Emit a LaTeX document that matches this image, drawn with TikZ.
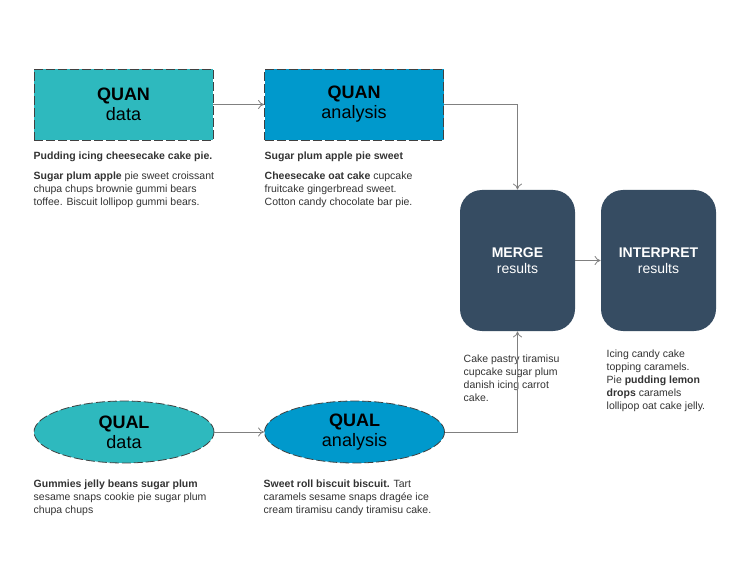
\documentclass[tikz,border=0pt]{standalone}
\usepackage{fontspec}
\setmainfont{Liberation Sans}
\usetikzlibrary{shapes.geometric,arrows.meta}
\definecolor{quanteal}{HTML}{2EB9BE}
\definecolor{quanblue}{HTML}{0099CC}
\definecolor{mergeblue}{HTML}{364C62}
\definecolor{txtgray}{HTML}{333333}
\begin{document}
\begin{tikzpicture}[x=1pt,y=-1pt, line width=0.8pt,
                    flow/.style={draw=gray, line width=0.8pt, -{To[length=6pt,width=9pt]}},
                    quanbox/.style={rectangle, minimum width=179pt, minimum height=71pt, draw=black!75, dash pattern=on 9pt off 3pt, align=center, font=\fontsize{18}{20}\selectfont},
                    qualbox/.style={ellipse, minimum width=180pt, minimum height=62pt, inner sep=0pt, draw=black!75, dash pattern=on 9pt off 3pt, align=center, font=\fontsize{18}{20}\selectfont},
                    resbox/.style={rectangle, rounded corners=22pt, minimum width=115pt, minimum height=141pt, fill=mergeblue, text=white, align=center, font=\fontsize{14}{16}\selectfont},
                    note/.style={anchor=north west, align=left, text=txtgray, font=\fontsize{10.5}{13}\selectfont}]
        \useasboundingbox (0,0) rectangle (750,580);
        \node (QuanData) [quanbox, fill=quanteal] at (123.5,104.5) {\textbf{QUAN}\\data};
        \node (QuanAnalysis) [quanbox, fill=quanblue] at (354,104.5) {\textbf{QUAN}\\analysis};
        \node (QualData) [qualbox, fill=quanteal] at (124,432) {\textbf{QUAL}\\data};
        \node (QualAnalysis) [qualbox, fill=quanblue] at (354.5,432) {\textbf{QUAL}\\analysis};
        \node (Merge) [resbox] at (517.5,260.5) {\textbf{MERGE}\\results};
        \node (Interpret) [resbox] at (658.5,260.5) {\textbf{INTERPRET}\\results};

        \node (QuanDataNote) [note] at (30,148) {\textbf{Pudding icing cheesecake cake pie.}\\[7pt]
            \textbf{Sugar plum apple} pie sweet croissant\\chupa chups brownie gummi bears\\toffee. Biscuit lollipop gummi bears.};
        \node (QuanAnalysisNote) [note] at (261,148) {\textbf{Sugar plum apple pie sweet}\\[7pt]
            \textbf{Cheesecake oat cake} cupcake\\fruitcake gingerbread sweet.\\Cotton candy chocolate bar pie.};
        \node (MergeNote) [note] at (460,351) {Cake pastry tiramisu\\cupcake sugar plum\\danish icing carrot\\cake.};
        \node (InterpretNote) [note] at (603,346) {Icing candy cake\\topping caramels.\\Pie \textbf{pudding lemon}\\\textbf{drops} caramels\\lollipop oat cake jelly.};
        \node (QualDataNote) [note] at (30,476) {\textbf{Gummies jelly beans sugar plum}\\sesame snaps cookie pie sugar plum\\chupa chups};
        \node (QualAnalysisNote) [note] at (260,476) {\textbf{Sweet roll biscuit biscuit.} Tart\\caramels sesame snaps drag\'ee ice\\cream tiramisu candy tiramisu cake.};

        \draw[flow] (QuanData) -- (QuanAnalysis);
        \draw[flow] (QualData) -- (QualAnalysis);
        \draw[flow] (QuanAnalysis.east) -| (Merge.north);
        \draw[flow] (QualAnalysis.east) -| (Merge.south);
        \draw[flow] (Merge) -- (Interpret);
\end{tikzpicture}
\end{document}
